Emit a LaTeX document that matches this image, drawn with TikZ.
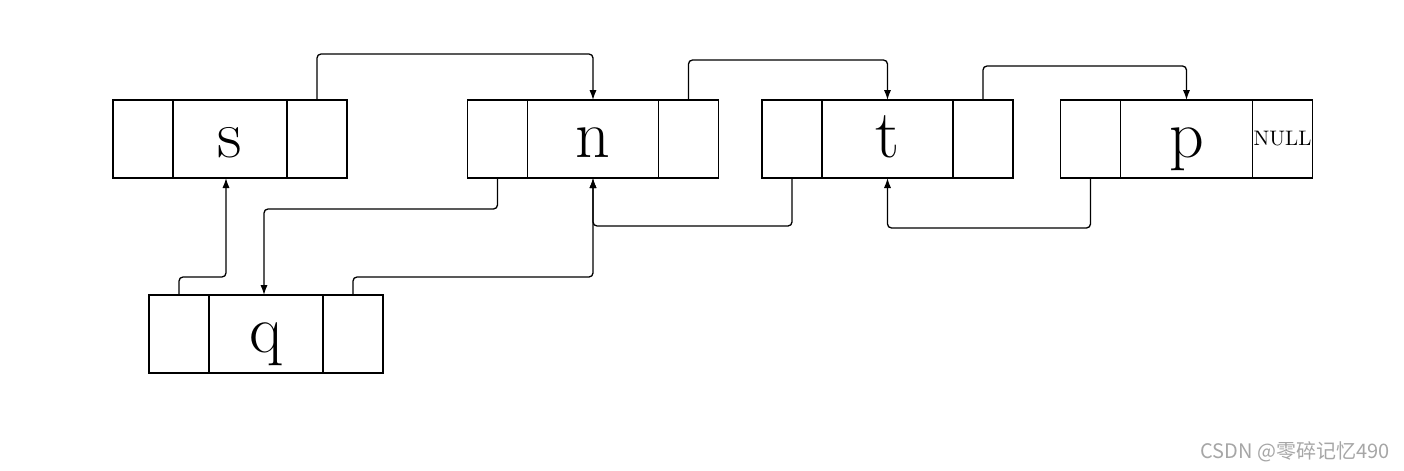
\documentclass[tikz,border=0pt]{standalone}
\usepackage{fontspec}
\newfontfamily\cjk{Noto Sans CJK SC}
\usetikzlibrary{chains,positioning,arrows.meta}

\begin{document}
\begin{tikzpicture}[
            x=0.5pt,y=-0.5pt,
            cell/.style={
                    draw,
                    on chain,
                    minimum width=30pt,
                    minimum height=39pt,
                    inner sep=0pt,
                    outer sep=0pt,
                    line width=0.65pt
                },
            key/.style={
                    cell,
                    font=\fontsize{34}{34}\selectfont,
                    text height=18pt,
                    text depth=0pt
                },
            link/.style={
                    -{Latex[length=5pt,width=3.6pt]},
                    line width=0.65pt,
                    rounded corners=2pt
                },
            node distance=0pt
        ]
        \useasboundingbox (0,0) rectangle (1404,471);
        \begin{scope}[start chain=1]
            \node[cell] at (143,139)
            (sprev) {};
            \node[key,minimum width=57pt]
            (sdata) {s};
            \node[cell]
            (snext) {};
        \end{scope}
        \begin{scope}[start chain=2]
            \node[cell] at (497.5,139)
            (nprev) {};
            \node[key,minimum width=65.5pt]
            (ndata) {n};
            \node[cell]
            (nnext) {};
        \end{scope}
        \begin{scope}[start chain=3]
            \node[cell] at (792,139)
            (tprev) {};
            \node[key,minimum width=65.5pt]
            (tdata) {t};
            \node[cell]
            (tnext) {};
        \end{scope}
        \begin{scope}[start chain=4]
            \node[cell] at (1090.5,139)
            (pprev) {};
            \node[key,minimum width=66pt]
            (pdata) {p};
            \node[cell,font=\fontsize{10.5}{10.5}\selectfont]
            (pnext) {NULL};
        \end{scope}
        \begin{scope}[start chain=5]
            \node[cell] at (179,334)
            (qprev) {};
            \node[key,minimum width=57pt]
            (qdata) {q};
            \node[cell]
            (qnext) {};
        \end{scope}

        \draw[link] (snext.north) -- ++(0,23pt) -| (ndata.north);
        \draw[link] (nnext.north) -- ++(0,20pt) -| (tdata.north);
        \draw[link] (tnext.north) -- ++(0,17pt) -| (pdata.north);
        \draw[link] (nprev.south) -- ++(0,-15.5pt) -| ([xshift=-1pt]qdata.north);
        \draw[link] (tprev.south) -- ++(0,-24pt) -| (ndata.south);
        \draw[link] (pprev.south) -- ++(0,-25pt) -| (tdata.south);
        \draw[link] (qprev.north) -- ++(0,9pt) -| ([xshift=-2pt]sdata.south);
        \draw[link] (qnext.north) -- ++(0,9pt) -| (ndata.south);

        \node[text=gray!70,font=\cjk\fontsize{10}{10}\selectfont] at (1295,452) (mark) {CSDN @零碎记忆490};
    \end{tikzpicture}
\end{document}
